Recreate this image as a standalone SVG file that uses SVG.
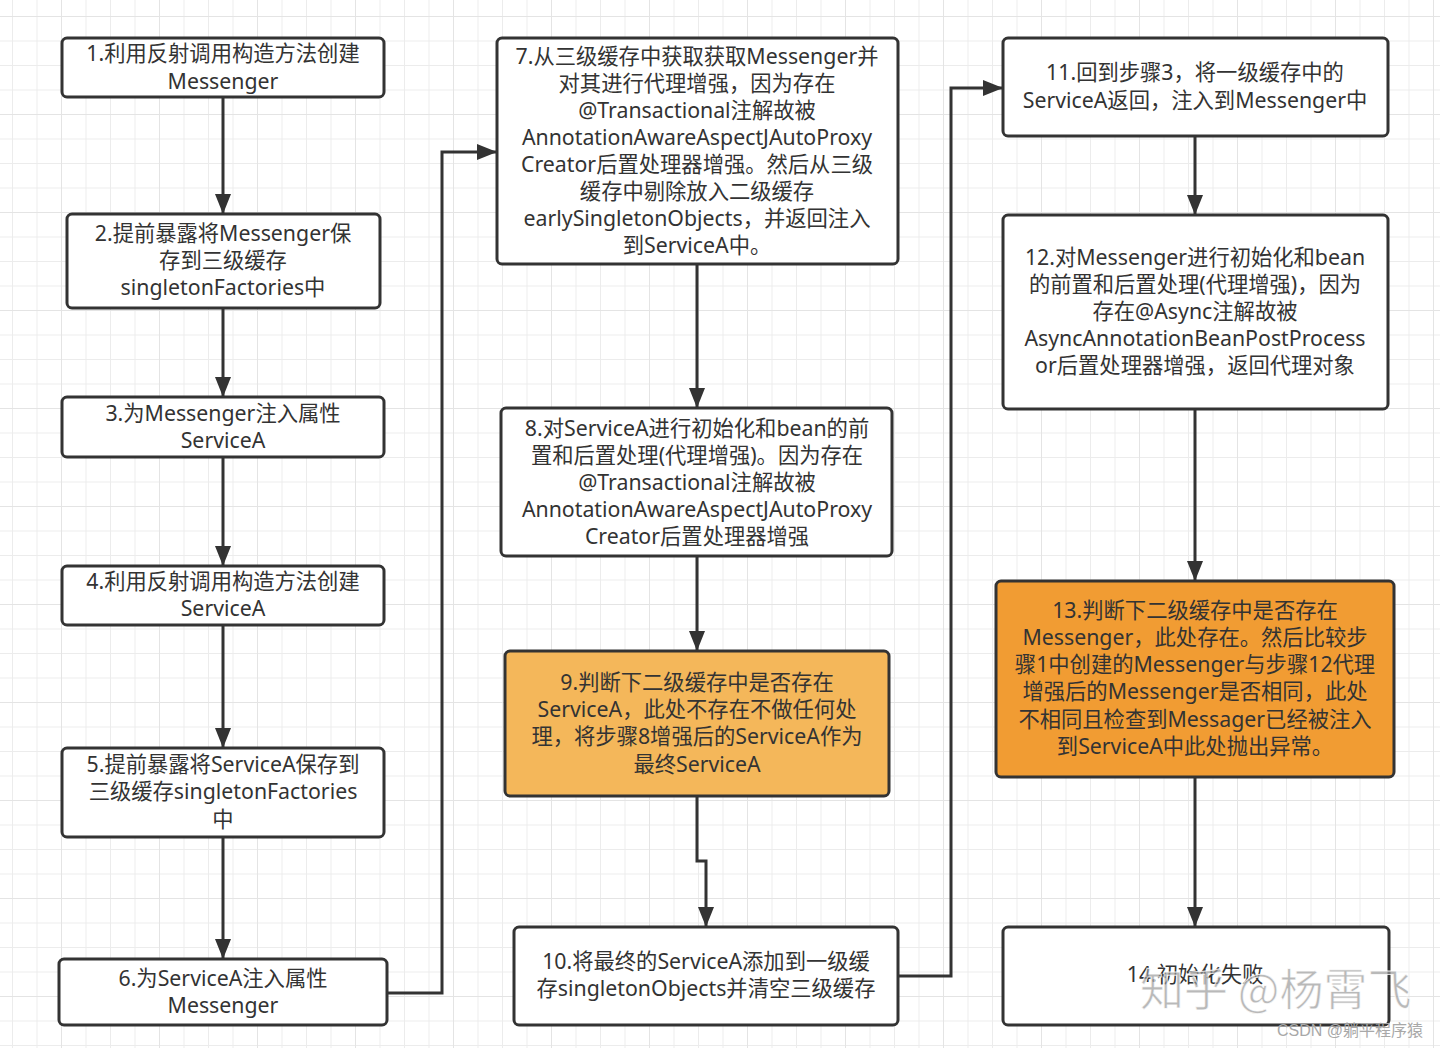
<svg xmlns="http://www.w3.org/2000/svg" width="1440" height="1048" viewBox="0 0 1440 1048">
<defs>
<pattern id="g" x="12" y="16" width="24.5" height="24.5" patternUnits="userSpaceOnUse">
<path d="M0 0V24.5M0 0H24.5" fill="none" stroke="#ececec" stroke-width="2"/>
</pattern>
<pattern id="G" x="61" y="16" width="98" height="98" patternUnits="userSpaceOnUse">
<path d="M0 0V98M0 0H98" fill="none" stroke="#e4e4e4" stroke-width="2"/>
</pattern>
<marker id="ah" viewBox="0 0 20 16" refX="20" refY="8" markerWidth="20" markerHeight="16" markerUnits="userSpaceOnUse" orient="auto">
<path d="M0 0L20 8L0 16Z" fill="#333"/>
</marker>
<style>
.b{fill:#fff;stroke:#333;stroke-width:3}
.o1{fill:#f4b75a;stroke:#333;stroke-width:3}
.o2{fill:#f19c33;stroke:#333;stroke-width:3}
.t{font-family:"Noto Sans","Noto Sans CJK SC",sans-serif;font-size:21.3px;fill:#333;text-anchor:middle}
.c{fill:none;stroke:#333;stroke-width:3;marker-end:url(#ah)}
</style>
</defs>
<rect width="1440" height="1048" fill="#fff"/>
<rect width="1440" height="1048" fill="url(#g)"/>
<rect width="1440" height="1048" fill="url(#G)"/>
<g id="connectors">
<path class="c" d="M223 97V214"/>
<path class="c" d="M223 308V397"/>
<path class="c" d="M223 457V566"/>
<path class="c" d="M223 625V748"/>
<path class="c" d="M223 837V959"/>
<path class="c" d="M387 993H442V152H497"/>
<path class="c" d="M697 264V408"/>
<path class="c" d="M697 556V651"/>
<path class="c" d="M697 796V861H706V927"/>
<path class="c" d="M898 976H951V88H1003"/>
<path class="c" d="M1195 136V215"/>
<path class="c" d="M1195 409V581"/>
<path class="c" d="M1195 777V927"/>
</g>
<g id="n1"><rect class="b" x="62" y="38" width="322" height="59" rx="5"/>
<text class="t" x="223" y="61">1.利用反射调用构造方法创建</text><text class="t" x="223" y="89">Messenger</text></g>
<g id="n2"><rect class="b" x="67" y="214" width="313" height="94" rx="5"/>
<text class="t" x="223" y="241">2.提前暴露将Messenger保</text><text class="t" x="223" y="268">存到三级缓存</text><text class="t" x="223" y="295">singletonFactories中</text></g>
<g id="n3"><rect class="b" x="62" y="397" width="322" height="60" rx="5"/>
<text class="t" x="223" y="421">3.为Messenger注入属性</text><text class="t" x="223" y="448">ServiceA</text></g>
<g id="n4"><rect class="b" x="62" y="566" width="322" height="59" rx="5"/>
<text class="t" x="223" y="589">4.利用反射调用构造方法创建</text><text class="t" x="223" y="616">ServiceA</text></g>
<g id="n5"><rect class="b" x="62" y="748" width="322" height="89" rx="5"/>
<text class="t" x="223" y="772">5.提前暴露将ServiceA保存到</text><text class="t" x="223" y="799">三级缓存singletonFactories</text><text class="t" x="223" y="827">中</text></g>
<g id="n6"><rect class="b" x="59" y="959" width="328" height="66" rx="5"/>
<text class="t" x="223" y="986">6.为ServiceA注入属性</text><text class="t" x="223" y="1013">Messenger</text></g>
<g id="n7"><rect class="b" x="497" y="38" width="401" height="226" rx="5"/>
<text class="t" x="697" y="64">7.从三级缓存中获取获取Messenger并</text>
<text class="t" x="697" y="91">对其进行代理增强，因为存在</text>
<text class="t" x="697" y="118">@Transactional注解故被</text>
<text class="t" x="697" y="145">AnnotationAwareAspectJAutoProxy</text>
<text class="t" x="697" y="172">Creator后置处理器增强。然后从三级</text>
<text class="t" x="697" y="199">缓存中剔除放入二级缓存</text>
<text class="t" x="697" y="226">earlySingletonObjects，并返回注入</text>
<text class="t" x="697" y="253">到ServiceA中。</text></g>
<g id="n8"><rect class="b" x="501" y="408" width="391" height="148" rx="5"/>
<text class="t" x="697" y="436">8.对ServiceA进行初始化和bean的前</text>
<text class="t" x="697" y="463">置和后置处理(代理增强)。因为存在</text>
<text class="t" x="697" y="490">@Transactional注解故被</text>
<text class="t" x="697" y="517">AnnotationAwareAspectJAutoProxy</text>
<text class="t" x="697" y="544">Creator后置处理器增强</text></g>
<g id="n9"><rect class="o1" x="505" y="651" width="384" height="145" rx="5"/>
<text class="t" x="697" y="690">9.判断下二级缓存中是否存在</text>
<text class="t" x="697" y="717">ServiceA，此处不存在不做任何处</text>
<text class="t" x="697" y="744">理，将步骤8增强后的ServiceA作为</text>
<text class="t" x="697" y="772">最终ServiceA</text></g>
<g id="n10"><rect class="b" x="514" y="927" width="384" height="98" rx="5"/>
<text class="t" x="706" y="969">10.将最终的ServiceA添加到一级缓</text>
<text class="t" x="706" y="996">存singletonObjects并清空三级缓存</text></g>
<g id="n11"><rect class="b" x="1003" y="38" width="385" height="98" rx="5"/>
<text class="t" x="1195" y="80">11.回到步骤3，将一级缓存中的</text>
<text class="t" x="1195" y="108">ServiceA返回，注入到Messenger中</text></g>
<g id="n12"><rect class="b" x="1003" y="215" width="385" height="194" rx="5"/>
<text class="t" x="1195" y="265">12.对Messenger进行初始化和bean</text>
<text class="t" x="1195" y="292">的前置和后置处理(代理增强)，因为</text>
<text class="t" x="1195" y="319">存在@Async注解故被</text>
<text class="t" x="1195" y="346">AsyncAnnotationBeanPostProcess</text>
<text class="t" x="1195" y="373">or后置处理器增强，返回代理对象</text></g>
<g id="n13"><rect class="o2" x="996" y="581" width="398" height="196" rx="5"/>
<text class="t" x="1195" y="618">13.判断下二级缓存中是否存在</text>
<text class="t" x="1195" y="645">Messenger，此处存在。然后比较步</text>
<text class="t" x="1195" y="672">骤1中创建的Messenger与步骤12代理</text>
<text class="t" x="1195" y="699">增强后的Messenger是否相同，此处</text>
<text class="t" x="1195" y="727">不相同且检查到Messager已经被注入</text>
<text class="t" x="1195" y="754">到ServiceA中此处抛出异常。</text></g>
<g id="n14"><rect class="b" x="1003" y="927" width="386" height="98" rx="5"/>
<text class="t" x="1195" y="982">14.初始化失败</text></g>
<g id="watermark">
<text x="1140" y="1006" font-family="Noto Sans CJK SC,sans-serif" font-size="44" fill="#9a9a9a" fill-opacity="0.7" stroke="#fff" stroke-width="1" stroke-opacity="0.8">知乎 @杨霄飞</text>
<text x="1277" y="1036" font-family="Liberation Sans,Noto Sans CJK SC,sans-serif" font-size="16" fill="#a8a8a8">CSDN @躺平程序猿</text>
</g>
</svg>
